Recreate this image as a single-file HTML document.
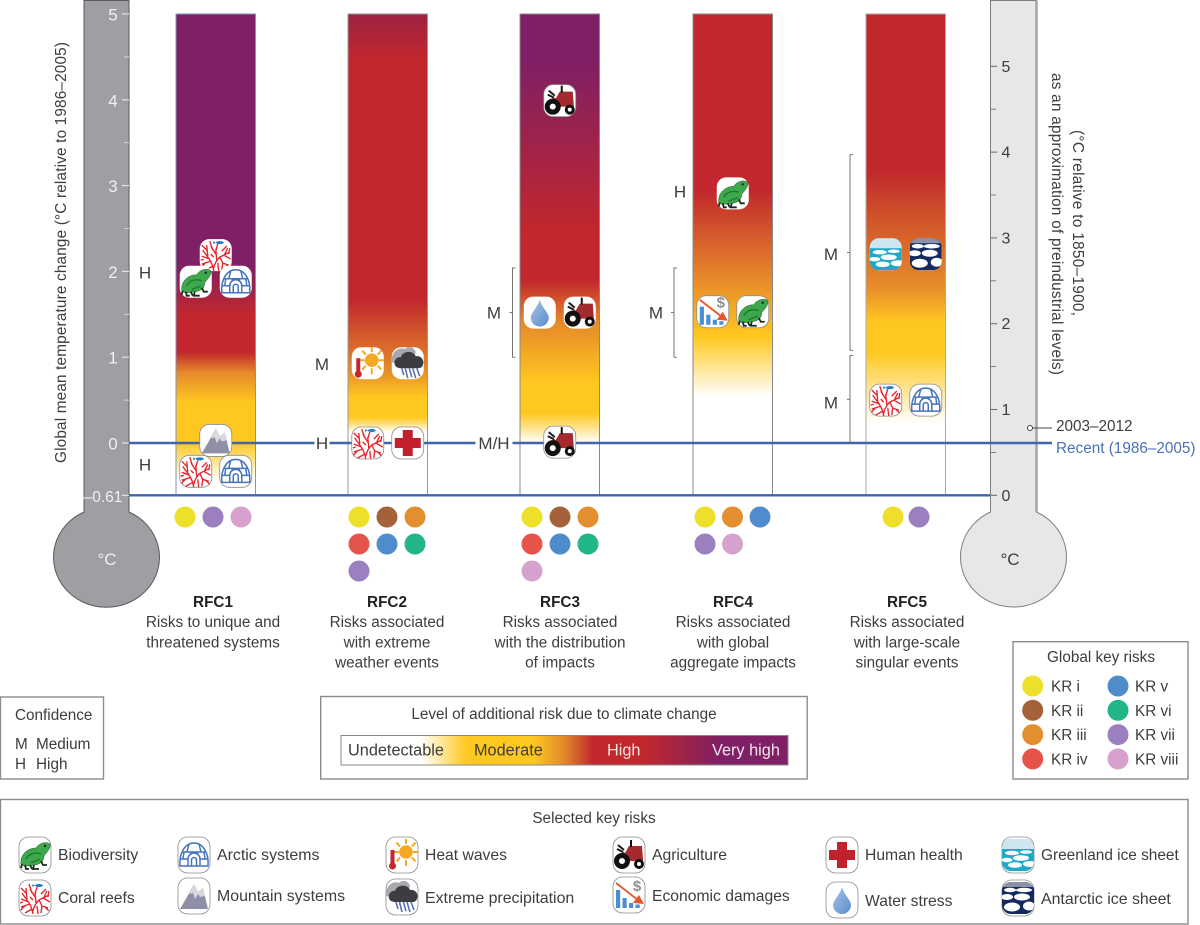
<!DOCTYPE html>
<html lang="en">
<head>
<meta charset="utf-8">
<title>Reasons for concern and climate risk levels</title>
<style>
html,body{margin:0;padding:0;background:#fff;width:1200px;height:925px;overflow:hidden}
svg{display:block;font-family:"Liberation Sans",sans-serif;font-size:15.3px;fill:#3d3d3d}
.box{fill:#fff;stroke:#8c8c8c;stroke-width:1.4}
.mid{text-anchor:middle}
</style>
</head>
<body>
<svg id="chart" xmlns="http://www.w3.org/2000/svg" width="1200" height="925" viewBox="0 0 1200 925">
<defs>
  <clipPath id="icon-clip"><rect width="32" height="32" rx="9"/></clipPath>
  <symbol id="icon-frog" viewBox="0 0 32 32">
    <path d="M2 25C1 16 8 9 17 9C20 4 27 2 31 5C32 10 27 14 25 17C25 23 20 26 14 26C9 27 4 28 2 25Z" fill="#3ea84c" stroke="#1f5a2a" stroke-width=".5"/>
    <path d="M7 20C10 14 17 13 22 15M12 24C15 22 18 22 21 20" fill="none" stroke="#1f7a34" stroke-width="1.500"/>
    <path d="M3 25l-1 4M6 26l1 4h3M11 26l2 4M15 26l-1 4h6M22 22l2 4h4" fill="none" stroke="#1c2a1e" stroke-width="1.800"/>
    <circle cx="26" cy="7" r="1.200" fill="#123"/>
  </symbol>
  <symbol id="icon-coral" viewBox="0 0 32 32">
    <g clip-path="url(#icon-clip)" fill="none" stroke="#e7222b" stroke-width="1.350">
      <path d="M14 32C13 25 10 20 5 14M10 20L2 17M8 17L7 6M7 11L2 6M11 22L2 25M6 23.500L1 29M13 27L6 31M4 20L1 21M14 29C15 24 17 21 20 18M17 21L16 10M16 15L11 7M16 12L18 5M13 11L10 2M20 18L30 13M24 16L31 20M25 15L28 9M20 18L23 24L29 26M23 24L22 31M26 25L31 30M18 24L19 32M22 12L27 7M11 15L14 18M3 11L5 14M29 15L30 9"/>
    </g>
    <ellipse cx="20" cy="3.500" rx="4" ry="1.500" fill="#2478c4"/><path d="M16 3.500l-2.500-1.500v3z" fill="#2478c4"/>
  </symbol>
  <symbol id="icon-igloo" viewBox="0 0 32 32">
    <g fill="none" stroke="#4474bd" stroke-width="1.500">
      <path d="M2 27C1 14 7 4 16 4s15 10 14 23Z"/>
      <path d="M10 27V20a6 6 0 0 1 12 0v7M13.500 27V21a2.500 2.500 0 0 1 5 0v6"/>
      <path d="M4 13H28M2 20H10M22 20H30M11 5L9 13M21 5L23 13M6 13L5 20M26 13L27 20M13 13L12 16M19 13L20 16"/>
    </g>
  </symbol>
  <symbol id="icon-mountain" viewBox="0 0 32 32">
    <path d="M2 29L9 17L16 4L20 12L25 8L30 29Z" fill="#8f90a8"/>
    <path d="M11 14L16 4L20 12L25 8L27 16L22 17L20 14L17 19L15 13Z" fill="#d8d8de"/>
  </symbol>
  <symbol id="icon-heat" viewBox="0 0 32 32">
    <circle cx="20" cy="13" r="6.800" fill="#f7a823"/>
    <g stroke="#f7a823" stroke-width="2"><path d="M20 0V5M20 21V27M8 13H13M27 13H32M10.500 3.500L14 7.500M26 18.500L29.500 22.500M29.500 3.500L26 7.500M14 18.500L10.500 22.500"/></g>
    <rect x="4.500" y="11" width="4" height="16" fill="#c1272d"/><circle cx="6.500" cy="27" r="3.500" fill="#c1272d"/>
  </symbol>
  <symbol id="icon-rain" viewBox="0 0 32 32">
    <g clip-path="url(#icon-clip)">
      <path d="M0 15C-1 5 7 -1 13 2C16 -2 24 0 24 6L10 17Z" fill="#a7a9ac"/>
      <path d="M5 20C0 16 4 9 9 10C11 3 22 3 24 9C30 8 33 14 31 18C30 21 27 21 26 21H8Z" fill="#3b3d42"/>
      <path d="M10 21L12 28M13.500 21L16 31M17.500 21L20 30M21 21L24 31M25 21L28 29" stroke="#5b70ad" stroke-width="1.600"/>
    </g>
  </symbol>
  <symbol id="icon-tractor" viewBox="0 0 32 32">
    <path d="M9 12L12 14L16 7H29L30 20L30 22H13L9 16Z" fill="#a52a2e"/>
    <path d="M17 1H19V8H17Z" fill="#111"/>
    <path d="M5 6L11 11M4 10L10 13" stroke="#1a1a1a" stroke-width="2"/>
    <circle cx="9" cy="22" r="8" fill="#111"/><circle cx="9" cy="22" r="3" fill="#fff"/>
    <circle cx="26" cy="25" r="5" fill="#111"/><circle cx="26" cy="25" r="2" fill="#fff"/>
  </symbol>
  <symbol id="icon-health" viewBox="0 0 32 32">
    <path d="M11 3H21V11H29V21H21V29H11V21H3V11H11Z" fill="#c1202c"/>
  </symbol>
  <symbol id="icon-water" viewBox="0 0 32 32">
    <defs><linearGradient id="drop-fill" x1="0" x2="1" y1="0" y2="1"><stop offset="0" stop-color="#a7c4e8"/><stop offset="1" stop-color="#5d8cca"/></linearGradient></defs>
    <path d="M16 3C14 11 7 16 7 21a9 9 0 0 0 18 0C25 16 18 11 16 3Z" fill="url(#drop-fill)"/>
  </symbol>
  <symbol id="icon-econ" viewBox="0 0 32 32">
    <rect x="3" y="11" width="4.200" height="18" fill="#4a90d0"/><rect x="9.500" y="19" width="4.200" height="10" fill="#4a90d0"/><rect x="16" y="24" width="4.200" height="5" fill="#4a90d0"/><rect x="22.500" y="25.500" width="4.200" height="3.500" fill="#4a90d0"/>
    <path d="M3 4L25 21" stroke="#e8552a" stroke-width="1.800"/><path d="M31 25L20 24L26 16Z" fill="#e8552a"/>
    <text x="24" y="12" text-anchor="middle" font-size="15" font-weight="bold" fill="#8c8f94">$</text>
  </symbol>
  <symbol id="icon-greenland" viewBox="0 0 32 32">
    <g clip-path="url(#icon-clip)">
      <rect width="32" height="32" fill="#1ea9c8"/><rect width="32" height="10" fill="#cfe6f0"/>
      <g fill="#fff"><ellipse cx="10" cy="14" rx="7" ry="2.200"/><ellipse cx="24" cy="13" rx="6" ry="1.800"/><ellipse cx="19" cy="19" rx="8" ry="2.800"/><ellipse cx="5" cy="21" rx="5.500" ry="2.200"/><ellipse cx="13" cy="26" rx="7" ry="2.800"/><ellipse cx="28" cy="25" rx="7" ry="3"/></g>
    </g>
  </symbol>
  <symbol id="icon-antarctic" viewBox="0 0 32 32">
    <g clip-path="url(#icon-clip)">
      <rect width="32" height="32" fill="#142a5e"/><rect width="32" height="5" fill="#8e8fa8"/>
      <g fill="#fff"><ellipse cx="8" cy="8" rx="6" ry="2.200"/><ellipse cx="22" cy="8" rx="8" ry="2.200"/><ellipse cx="5" cy="15" rx="6" ry="3"/><ellipse cx="20" cy="15" rx="8" ry="3.500"/><ellipse cx="10" cy="25" rx="8" ry="4.500"/><ellipse cx="27" cy="24" rx="6" ry="4.500"/></g>
    </g>
  </symbol>
</defs>

<path d="M84 0.500V512A53 50 0 1 0 129 512V0.500Z" fill="#9d9fa2" stroke="#5a5a5a" stroke-width="1"/>
<path d="M990.500 0.500V512A53 50 0 1 0 1036.500 512V0.500Z" fill="#e6e7e8" stroke="#7e7e7e" stroke-width="1"/>
<path d="M1036.500 0.500V512" fill="none" stroke="#a6a6a6" stroke-width="2.500"/>
<g id="left-axis"></g>
<g id="right-axis"></g>
<text x="107" y="565" class="mid" font-size="17" style="fill:#f0f0f0">°C</text>
<text x="1010" y="565" class="mid" font-size="17">°C</text>
<text transform="translate(66 463) rotate(-90)" textLength="421">Global mean temperature change (°C relative to 1986–2005)</text>
<text transform="translate(1073 130) rotate(90)" textLength="186">(°C relative to 1850–1900,</text>
<text transform="translate(1052 73) rotate(90)" textLength="302">as an approximation of preindustrial levels)</text>

<g id="bars"></g>
<g id="lines"></g>
<g id="annotations"></g>
<g id="icons"></g>
<g id="dots"></g>
<g id="captions"></g>

<circle cx="1030" cy="428" r="2.500" fill="#fff" stroke="#444" stroke-width="1"/>
<line x1="1032.500" y1="428" x2="1052" y2="428" stroke="#444" stroke-width="1"/>
<text x="1056" y="431">2003–2012</text>
<text x="1056" y="453" style="fill:#4a70b5">Recent (1986–2005)</text>

<g>
  <rect class="box" x="0.500" y="697" width="103" height="82"/>
  <text x="15" y="720">Confidence</text>
  <text x="15" y="749">M</text><text x="36" y="749">Medium</text>
  <text x="15" y="769">H</text><text x="36" y="769">High</text>
</g>

<g>
  <rect class="box" x="320.700" y="696.500" width="486.500" height="82.500"/>
  <text x="564" y="719" class="mid">Level of additional risk due to climate change</text>
  <defs>
    <linearGradient id="legend-gradient" gradientUnits="userSpaceOnUse" x1="341" x2="788" y1="0" y2="0">
      <stop offset="0.178" stop-color="#fff"/><stop offset="0.282" stop-color="#ffc820"/><stop offset="0.430" stop-color="#ffc820"/><stop offset="0.497" stop-color="#e38b2c"/><stop offset="0.564" stop-color="#c1272d"/><stop offset="0.676" stop-color="#c1272d"/><stop offset="0.850" stop-color="#7f1f65"/>
    </linearGradient>
  </defs>
  <rect x="341" y="735.500" width="447" height="29.500" fill="url(#legend-gradient)" stroke="#8a8a8a" stroke-width="1"/>
  <text x="348" y="755.500" font-size="16.300">Undetectable</text>
  <text x="474" y="755.500" font-size="16.300">Moderate</text>
  <text x="607" y="755.500" font-size="16.300" style="fill:#f5e6e0">High</text>
  <text x="712" y="755.500" font-size="16.300" style="fill:#f2e4ee">Very high</text>
</g>

<g id="global-legend">
  <rect class="box" x="1013" y="641.700" width="175" height="137.300"/>
  <text x="1101" y="662" class="mid">Global key risks</text>
</g>

<g>
  <rect class="box" x="0.500" y="799.500" width="1187.500" height="124.500"/>
  <text x="594" y="823" class="mid">Selected key risks</text>
</g>
<g id="selected"></g>
</svg>

<script>
/* Data */
const rfcNames = ['RFC1', 'RFC2', 'RFC3', 'RFC4', 'RFC5'];
const rfcText1 = ['Risks to unique and', 'Risks associated', 'Risks associated', 'Risks associated', 'Risks associated'];
const rfcText2 = ['threatened systems', 'with extreme', 'with the distribution', 'with global', 'with large-scale'];
const rfcText3 = ['', 'weather events', 'of impacts', 'aggregate impacts', 'singular events'];

const leftMajorTicks = [5, 4, 3, 2, 1, 0, -0.61];
const leftMajorLabels = ['5', '4', '3', '2', '1', '0', '–0.61'];
const leftMinorTicks = [4.5, 3.5, 2.5, 1.5, 0.5];
const rightMajorTicks = [0, 1, 2, 3, 4, 5];
const rightMinorTicks = [0.5, 1.5, 2.5, 3.5, 4.5];
const barTop = 5;
const barBottom = -0.61;

/* Risk transitions: temperature (°C) and the risk level reached there */
const rfc1Temps = [-0.43, 0, 0.47, 0.82, 1.06, 1.5, 2.1, 5];
const rfc1Levels = ['U', 'M', 'M', 'O', 'H', 'H', 'V', 'V'];
const rfc2Temps = [0.12, 0.3, 0.54, 0.85, 1.67, 4.46, 5];
const rfc2Levels = ['U', 'M', 'M', 'O', 'H', 'H', 'P'];
const rfc3Temps = [0, 0.35, 0.7, 1.4, 1.9, 2.48, 4.46, 5];
const rfc3Levels = ['U', 'M', 'M', 'O', 'H', 'H', 'V', 'V'];
const rfc4Temps = [0.54, 1.24, 1.9, 2.95, 5];
const rfc4Levels = ['U', 'M', 'O', 'H', 'H'];
const rfc5Temps = [0.23, 1.05, 1.4, 1.84, 2.6, 3.18, 5];
const rfc5Levels = ['U', 'M', 'M', 'O', 'R', 'H', 'H'];
const riskTemps = [rfc1Temps, rfc2Temps, rfc3Temps, rfc4Temps, rfc5Temps];
const riskLevels = [rfc1Levels, rfc2Levels, rfc3Levels, rfc4Levels, rfc5Levels];

/* Icons in each bar: kind and temperature, with column -1 / 0 / +1 inside the bar */
const iconBar = [0, 0, 0, 0, 0, 0, 1, 1, 1, 1, 2, 2, 2, 2, 3, 3, 3, 4, 4, 4, 4];
const iconKind = ['coral', 'frog', 'igloo', 'mountain', 'coral', 'igloo', 'heat', 'rain', 'coral', 'health', 'tractor', 'water', 'tractor', 'tractor', 'frog', 'econ', 'frog', 'greenland', 'antarctic', 'coral', 'igloo'];
const iconTemp = [2.19, 1.88, 1.88, 0.03, -0.33, -0.33, 0.93, 0.93, 0, 0, 3.99, 1.52, 1.52, 0.01, 2.91, 1.53, 1.53, 2.2, 2.2, 0.5, 0.5];
const iconColumn = [0, -1, 1, 0, -1, 1, -1, 1, -1, 1, 0, -1, 1, 0, 0, -1, 1, -1, 1, -1, 1];
const iconFramed = [0, 0, 0, 1, 1, 1, 0, 0, 1, 1, 1, 0, 0, 1, 0, 1, 1, 0, 0, 1, 1];

/* Confidence labels */
const confBar = [0, 0, 1, 1, 2, 2, 3, 3, 4, 4];
const confLabel = ['H', 'H', 'M', 'H', 'M', 'M/H', 'H', 'M', 'M', 'M'];
const confTemp = [1.99, -0.25, 0.92, 0, 1.52, 0, 2.93, 1.52, 2.2, 0.47];
const confAdjacent = [0, 0, 0, 0, 0, 0, 1, 0, 0, 0];

/* Bracket ranges (°C) */
const bracketBar = [2, 3, 4, 4];
const bracketLow = [1.0, 1.0, 1.08, 0];
const bracketHigh = [2.04, 2.04, 3.36, 1.02];

/* Key-risk membership per RFC */
const rfcRisks = [
  ['i', 'vii', 'viii'],
  ['i', 'ii', 'iii', 'iv', 'v', 'vi', 'vii'],
  ['i', 'ii', 'iii', 'iv', 'v', 'vi', 'viii'],
  ['i', 'iii', 'v', 'vii', 'viii'],
  ['i', 'vii']
];
const globalRiskKeys = ['i', 'ii', 'iii', 'iv', 'v', 'vi', 'vii', 'viii'];

const selectedLabels = ['Biodiversity', 'Coral reefs', 'Arctic systems', 'Mountain systems', 'Heat waves', 'Extreme precipitation', 'Agriculture', 'Economic damages', 'Human health', 'Water stress', 'Greenland ice sheet', 'Antarctic ice sheet'];
const selectedKinds = ['frog', 'coral', 'igloo', 'mountain', 'heat', 'rain', 'tractor', 'econ', 'health', 'water', 'greenland', 'antarctic'];

/* Axis functions and layout */
const degreePx = 85.8;
const yLeft = function (t) { return 443 - degreePx * t; };
const yRight = function (t) { return 495.3 - degreePx * t; };
const barLeft = [176, 348, 520, 693, 866];
const barWidth = 79.5;
const barStroke = ['#7d95bf', '#999', '#888', '#888', '#aaa'];
const captionCentre = [213, 387, 560, 733, 907];
const dotStartX = [185, 359, 532, 705, 893];
const dotSpacing = [28, 28, 28, 27.5, 26];
const labelGutter = [31, 26, 26, 37, 35];
const levelColours = { U: '#ffffff', M: '#ffc820', O: '#e68a2a', R: '#d0552a', H: '#c1272d', P: '#9c2242', V: '#7f1f65' };
const riskColours = { i: '#eee02a', ii: '#a5623a', iii: '#e38e2f', iv: '#e5534b', v: '#4f8ccc', vi: '#22b587', vii: '#9a80bf', viii: '#d6a2cd' };
const NS = 'http://www.w3.org/2000/svg';

function make(tag, parent, attrs) {
  const el = document.createElementNS(NS, tag);
  for (const k in attrs) el.setAttribute(k, attrs[k]);
  parent.appendChild(el);
  return el;
}
function byId(id) { return document.getElementById(id); }

/* Axes */
leftMajorTicks.forEach(function (t, i) {
  const tick = make('line', byId('left-axis'), { x1: 122, x2: 129, y1: yLeft(t), y2: yLeft(t), stroke: '#f0f0f0', 'stroke-width': 1 });
  
  
  const label = make('text', byId('left-axis'), { x: t < 0 ? 103 : 113, y: yLeft(t) + 6.5, 'text-anchor': 'middle', 'font-size': t < 0 ? 15.5 : 17, style: 'fill:#f0f0f0' });
  label.textContent = leftMajorLabels[i];
  
  
});
leftMinorTicks.forEach(function (t) {
  const tick = make('line', byId('left-axis'), { x1: 124, x2: 129, y1: yLeft(t), y2: yLeft(t), stroke: '#e0e0e0', 'stroke-width': 0.8 });
  
  
});
rightMajorTicks.forEach(function (t) {
  const tick = make('line', byId('right-axis'), { x1: 990.5, x2: 997, y1: yRight(t), y2: yRight(t), stroke: '#666', 'stroke-width': 1 });
  
  
  const label = make('text', byId('right-axis'), { x: 1006, y: yRight(t) + 5.5, 'text-anchor': 'middle', 'font-size': 16 });
  label.textContent = String(t);
  
  
});
rightMinorTicks.forEach(function (t) {
  const tick = make('line', byId('right-axis'), { x1: 990.5, x2: 996, y1: yRight(t), y2: yRight(t), stroke: '#666', 'stroke-width': 0.8 });
  
  
});

/* Bars with gradients built from the transition arrays */
const defsEl = document.querySelector('#chart defs');
rfcNames.forEach(function (name, b) {
  const grad = make('linearGradient', defsEl, { id: 'risk-' + b, gradientUnits: 'userSpaceOnUse', x1: 0, x2: 0, y1: yLeft(barBottom), y2: yLeft(barTop) });
  riskTemps[b].forEach(function (t, i) {
    const offset = (t - barBottom) / (barTop - barBottom);
    make('stop', grad, { offset: offset, 'stop-color': levelColours[riskLevels[b][i]] });
  });
  const bar = make('rect', byId('bars'), { x: barLeft[b], y: yLeft(barTop), width: barWidth, height: yLeft(barBottom) - yLeft(barTop), fill: 'url(#risk-' + b + ')', stroke: barStroke[b], 'stroke-width': 1 });
  
  
});

/* Reference lines */
const recentLine = make('line', byId('lines'), { x1: 129, x2: 1052, y1: yLeft(0), y2: yLeft(0), stroke: '#3f66ad', 'stroke-width': 2.4 });


const preLine = make('line', byId('lines'), { x1: 129, x2: 990, y1: yLeft(barBottom), y2: yLeft(barBottom), stroke: '#3f66ad', 'stroke-width': 2.4 });



/* Brackets */
bracketBar.forEach(function (b, i) {
  const x = barLeft[b] - (b === 4 ? 16 : (b === 3 ? 19 : 7.5));
  const hi = yLeft(bracketHigh[i]);
  const lo = yLeft(bracketLow[i]);
  const mid = (hi + lo) / 2;
  const br = make('path', byId('annotations'), { d: 'M' + (x + 3) + ' ' + hi + 'H' + x + 'V' + lo + 'H' + (x + 3) + 'M' + x + ' ' + mid + 'H' + (x - 3), fill: 'none', stroke: '#666', 'stroke-width': 0.9 });
  
  
});

/* Confidence labels */
confBar.forEach(function (b, i) {
  const gutter = confAdjacent[i] ? 13 : labelGutter[b];
  const x = barLeft[b] - gutter;
  const y = yLeft(confTemp[i]);
  if (confTemp[i] === 0) {
    const w = confLabel[i].length > 1 ? 37 : 15;
    const gap = make('rect', byId('annotations'), { x: x - w / 2, y: y - 3, width: w, height: 6, fill: '#fff' });
    
    
  }
  const label = make('text', byId('annotations'), { x: x, y: y + 6, 'text-anchor': 'middle', 'font-size': 17 });
  label.textContent = confLabel[i];
  
  
});

/* Icons */
function drawIcon(parent, kind, cx, cy, w, h, framed) {
  const g = make('g', parent, {});
  const frame = make('rect', g, { x: cx - w / 2, y: cy - h / 2, width: w, height: h, rx: 9.5, fill: '#fff', stroke: framed ? '#8c8c8c' : 'none', 'stroke-width': 0.8 });
  
  
  const art = make('use', g, { href: '#icon-' + kind, x: cx - w / 2, y: cy - h / 2, width: w, height: h, preserveAspectRatio: 'none' });
  
  
  return g;
}
iconBar.forEach(function (b, i) {
  const cx = barLeft[b] + barWidth / 2 + iconColumn[i] * 20;
  const icon = drawIcon(byId('icons'), iconKind[i], cx, yLeft(iconTemp[i]), 32, 32, iconFramed[i]);
  
  
});

/* Key-risk dots */
rfcRisks.forEach(function (risks, b) {
  risks.forEach(function (r, i) {
    const col = i % 3;
    const row = Math.floor(i / 3);
    const dot = make('circle', byId('dots'), { cx: dotStartX[b] + col * dotSpacing[b], cy: 517 + row * 27, r: 10.5, fill: riskColours[r] });
    
    
  });
});

/* Captions */
rfcNames.forEach(function (name, b) {
  const x = captionCentre[b];
  const title = make('text', byId('captions'), { x: x, y: 607, 'text-anchor': 'middle', 'font-weight': 'bold', style: 'fill:#222' });
  title.textContent = name;
  
  
  [rfcText1[b], rfcText2[b], rfcText3[b]].forEach(function (line, k) {
    if (!line) return;
    const t = make('text', byId('captions'), { x: x, y: 627 + k * 20.3, 'text-anchor': 'middle' });
    t.textContent = line;
    
    
  });
});

/* Global key-risk legend */
globalRiskKeys.forEach(function (key, i) {
  const col = i < 4 ? 0 : 1;
  const row = i % 4;
  const y = 686 + row * 24.3;
  const dot = make('circle', byId('global-legend'), { cx: col ? 1118 : 1032.7, cy: y, r: 10.5, fill: riskColours[key] });
  
  
  const label = make('text', byId('global-legend'), { x: col ? 1135 : 1051, y: y + 5.5 });
  label.textContent = 'KR ' + key;
  
  
});

/* Selected key-risk legend */
const selectedIconX = [35, 35, 194, 194, 402, 402, 629, 629, 842, 842, 1018, 1018];
const selectedIconY = [855, 898, 855, 896, 855, 897, 855, 895, 855, 900, 855, 898];
const selectedTextY = [860, 903, 860, 901, 860, 903, 860, 901, 860, 906, 860, 904];
const selectedFontSize = [15.7, 15.7, 15.9, 15.9, 15.7, 15.9, 15.7, 15.7, 15.7, 15.7, 15.4, 15.9];
selectedLabels.forEach(function (label, i) {
  const icon = drawIcon(byId('selected'), selectedKinds[i], selectedIconX[i], selectedIconY[i], 32, 36, 1);
  
  
  const t = make('text', byId('selected'), { x: selectedIconX[i] + 23, y: selectedTextY[i], 'font-size': selectedFontSize[i] });
  t.textContent = label;
  
  
});
</script>
</body>
</html>
